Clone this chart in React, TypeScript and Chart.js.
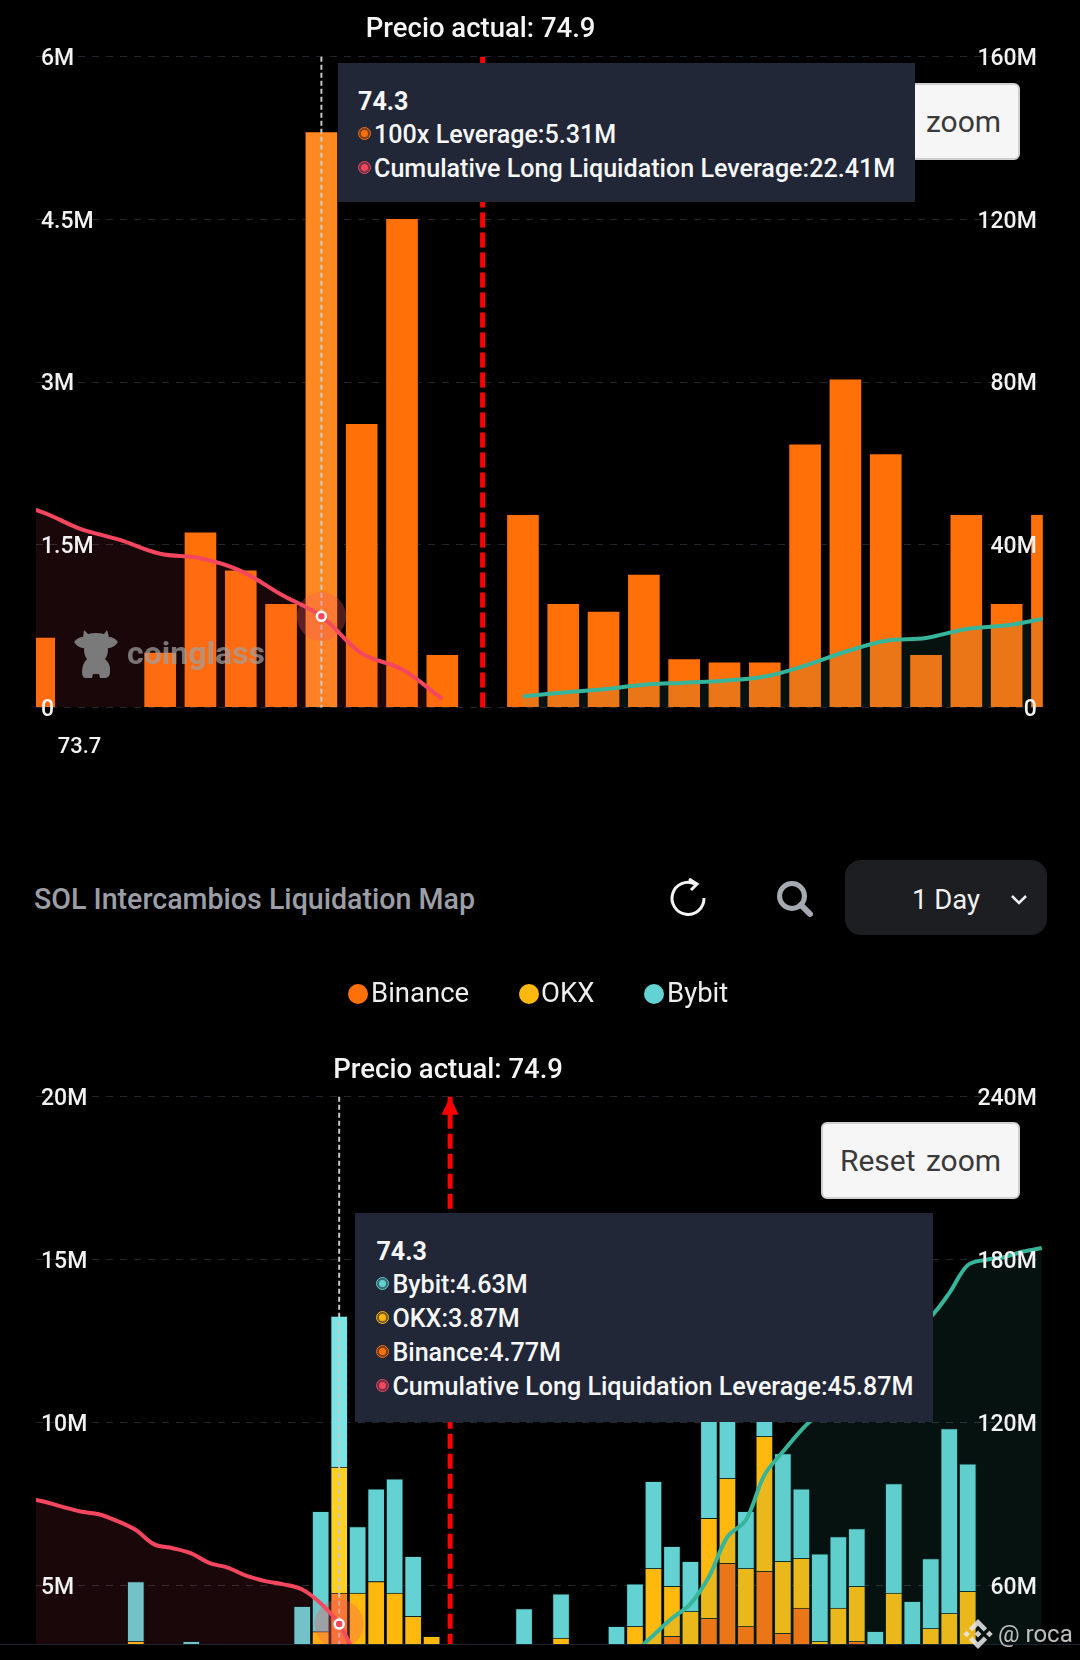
import { useEffect, useRef } from "react";
import { Chart, registerables } from "chart.js";

Chart.register(...registerables);

const FONT = "Roboto";
const BINANCE = "#ff7008";
const OKX = "#ffb90e";
const BYBIT = "#64d2d3";
const RED = "#f4475f";
const TEAL = "#36b59b";

// top chart: 100x leverage
const topPrices = [73.6, 73.9, 74.0, 74.1, 74.2, 74.3, 74.4, 74.5, 74.6, 74.8, 74.9, 75.0, 75.1, 75.2, 75.3, 75.4, 75.5, 75.6, 75.7, 75.8, 75.9, 76.0, 76.1];
const leverage100x = [0.65, 0.51, 1.62, 1.27, 0.96, 5.31, 2.62, 4.51, 0.49, 1.78, 0.96, 0.89, 1.23, 0.45, 0.42, 0.42, 2.43, 3.03, 2.34, 0.49, 1.78, 0.96, 1.78];
const topLongPrices = [73.5, 73.6, 73.7, 73.8, 73.9, 74.0, 74.1, 74.2, 74.3, 74.4, 74.5, 74.6];
const topLong = [50, 48.3, 44, 41.2, 37.8, 36.7, 33.6, 27.8, 22.41, 13.3, 9.4, 2.1];
const topShortPrices = [74.8, 74.9, 75.0, 75.1, 75.2, 75.3, 75.4, 75.5, 75.6, 75.7, 75.8, 75.9, 76.0, 76.1];
const topShort = [2.7, 3.7, 4.5, 5.6, 6.1, 6.6, 7.6, 10.3, 13.7, 16.4, 17.1, 19.3, 20.2, 22];

// bottom chart: exchanges, stacked
const exchangePrices = [73.75, 73.9, 74.2, 74.25, 74.3, 74.35, 74.4, 74.45, 74.5, 74.55, 74.8, 74.9, 75.05, 75.1, 75.15, 75.2, 75.25, 75.3, 75.35, 75.4, 75.45, 75.5, 75.55, 75.6, 75.65, 75.7, 75.75, 75.8, 75.85, 75.9, 75.95, 76.0];
const binance = [1.4, 1.5, 1.5, 2.2, 4.77, 2.0, 2.2, 2.0, 1.9, 1.7, 1.3, 1.6, 1.5, 1.6, 1.8, 3.45, 2.2, 4.0, 5.69, 3.75, 5.44, 3.54, 4.31, 2.0, 2.0, 3.29, 1.5, 2.0, 1.6, 1.9, 2.0, 2.2];
const okx = [1.89, 1.2, 1.4, 1.39, 3.87, 2.77, 2.93, 2.77, 2.16, 1.75, 1.5, 1.79, 1.4, 2.15, 3.73, 1.53, 2.01, 3.07, 2.6, 1.78, 4.14, 2.21, 1.53, 1.29, 2.31, 1.69, 1.3, 2.77, 1.4, 1.79, 2.15, 2.63];
const bybit = [1.84, 0.59, 1.47, 3.69, 4.63, 2.04, 2.84, 3.51, 1.84, 0, 1.5, 1.36, 0.85, 1.31, 2.67, 1.23, 1.54, 3.7, 2.6, 1.75, 1.2, 3.3, 2.13, 2.69, 2.2, 1.77, 0.8, 3.36, 1.52, 2.14, 5.67, 3.91];
const bottomLongPrices = [73.45, 73.5, 73.55, 73.6, 73.65, 73.7, 73.75, 73.8, 73.85, 73.9, 73.95, 74.0, 74.05, 74.1, 74.15, 74.2, 74.25, 74.3, 74.35, 74.4, 74.45, 74.5, 74.55];
const bottomLong = [92.2, 91, 89.1, 87.3, 86.3, 83.8, 80.5, 75.2, 73.8, 71.9, 68.3, 66.6, 63.6, 61.7, 60.5, 58.6, 53.5, 45.87, 33, 24, 17, 9, 3];
const bottomShortPrices = [75.1, 75.15, 75.2, 75.25, 75.3, 75.35, 75.4, 75.45, 75.5, 75.55, 75.6, 75.65, 75.7, 75.75, 75.8, 75.85, 75.9, 75.95, 76.0, 76.05, 76.1, 76.15, 76.2];
const bottomShort = [35.7, 41.8, 48, 53.3, 63.3, 78, 84.2, 100.7, 109.3, 117.3, 124, 131, 137, 143, 149, 154, 159, 167.7, 178, 180, 181, 183, 184.3];

const HOVER_PRICE = 74.3;
const CURRENT_PRICE = "74.9";

const pairs = (xs: number[], ys: number[]) => xs.map((x, i) => ({ x, y: ys[i] }));

function lineSet(label: string, xs: number[], ys: number[], color: string, fill: string) {
  return {
    type: "line" as const,
    label,
    data: pairs(xs, ys),
    yAxisID: "y1",
    borderColor: color,
    backgroundColor: fill,
    borderWidth: 4,
    pointRadius: 0,
    tension: 0.35,
    fill: "origin",
    order: 0,
  };
}

function yScales(leftMax: number, leftStep: number, rightMax: number, rightStep: number) {
  const ticks = {
    color: "#f2f2f2",
    font: { family: FONT, size: 23, weight: 500 as const },
    mirror: true,
    z: 1,
    labelOffset: 2.5,
    callback: (v: any) => (v === 0 ? "0" : `${v}M`),
  };
  const fit = (axis: any) => { axis.width = 0; };
  return {
    y: {
      min: 0, max: leftMax, stacked: true,
      afterFit: fit,
      ticks: { ...ticks, padding: 5, stepSize: leftStep },
      grid: { color: "#23262e", drawTicks: false },
      border: { display: false, dash: [7, 7] },
    },
    y1: {
      position: "right" as const,
      min: 0, max: rightMax,
      afterFit: fit,
      ticks: { ...ticks, padding: -6, stepSize: rightStep },
      grid: { display: false },
      border: { display: false },
    },
  };
}

// price line, its label, crosshair and the hovered point
function marksPlugin(priceAt: number, labelY: number, arrow: boolean, haloColor: string) {
  return {
    id: "marks",
    afterDatasetsDraw(chart: any) {
      const { ctx, chartArea, scales } = chart;
      const { top, bottom } = chartArea;
      const px = scales.x.getPixelForValue(priceAt);
      const hx = scales.x.getPixelForValue(HOVER_PRICE);

      ctx.save();
      ctx.strokeStyle = "#ff0000";
      ctx.lineWidth = 5;
      ctx.setLineDash([15, 5]);
      ctx.beginPath();
      ctx.moveTo(px, bottom);
      ctx.lineTo(px, top);
      ctx.stroke();
      if (arrow) {
        ctx.fillStyle = "#ff0000";
        ctx.beginPath();
        ctx.moveTo(px, top);
        ctx.lineTo(px - 8.5, top + 18);
        ctx.lineTo(px + 8.5, top + 18);
        ctx.closePath();
        ctx.fill();
      }

      ctx.fillStyle = "#f5f5f5";
      ctx.font = `500 27.5px ${FONT}`;
      ctx.textAlign = "center";
      ctx.textBaseline = "middle";
      ctx.fillText(`Precio actual: ${CURRENT_PRICE}`, px - 2, labelY);

      ctx.strokeStyle = "#c9c9c9";
      ctx.lineWidth = 2;
      ctx.setLineDash([5, 3]);
      ctx.beginPath();
      ctx.moveTo(hx, top);
      ctx.lineTo(hx, bottom);
      ctx.stroke();
      ctx.setLineDash([]);

      const longIndex = chart.data.datasets.findIndex((d: any) => d.label === "long");
      const meta = chart.getDatasetMeta(longIndex);
      const point = meta.data.find((p: any) => Math.abs(p.x - hx) < 1);
      if (point) {
        ctx.fillStyle = haloColor;
        ctx.beginPath();
        ctx.arc(point.x, point.y, 24.5, 0, Math.PI * 2);
        ctx.fill();
        ctx.fillStyle = RED;
        ctx.strokeStyle = "#ffffff";
        ctx.lineWidth = 2.5;
        ctx.beginPath();
        ctx.arc(point.x, point.y, 4.5, 0, Math.PI * 2);
        ctx.fill();
        ctx.stroke();
      }
      ctx.restore();
    },
  };
}

const hoverColor = (base: string, light: string, xs: number[]) => (c: any) =>
  xs[c.dataIndex] === HOVER_PRICE ? light : base;

function TopChart() {
  const canvasRef = useRef<HTMLCanvasElement>(null);

  useEffect(() => {
    if (!canvasRef.current) return;
    const chart = new Chart(canvasRef.current, {
      type: "bar",
      data: {
        datasets: [
          lineSet("long", topLongPrices, topLong, RED, "rgba(244,71,95,0.1)"),
          lineSet("short", topShortPrices, topShort, TEAL, "rgba(54,181,155,0.1)"),
          {
            label: "100x Leverage",
            data: pairs(topPrices, leverage100x),
            backgroundColor: hoverColor(BINANCE, "#ff8820", topPrices),
            borderColor: "rgba(0,0,0,0.3)",
            borderWidth: 1,
            barThickness: 33,
            order: 1,
          },
        ] as any,
      },
      options: {
        responsive: false,
        animation: false,
        events: [],
        layout: { padding: { left: 36, right: 37.2, top: 56.7, bottom: 22.5 } },
        plugins: { legend: { display: false }, tooltip: { enabled: false } },
        scales: {
          x: {
            type: "linear",
            offset: false,
            min: 73.592,
            max: 76.0897,
            afterBuildTicks: (axis: any) => { axis.ticks = [{ value: 73.7 }]; },
            afterFit: (axis: any) => { axis.height = 60; },
            ticks: {
              color: "#f2f2f2",
              font: { family: FONT, size: 22, weight: 500 },
              padding: 19,
              maxRotation: 0,
              callback: (v: any) => Number(v).toFixed(1),
            },
            grid: { display: false },
            border: { display: false },
          },
          ...yScales(6, 1.5, 160, 40),
        },
      } as any,
      plugins: [marksPlugin(74.7, 30, false, "rgba(244,90,90,0.32)")],
    });
    return () => { chart.destroy(); };
  }, []);

  return <canvas ref={canvasRef} width={1080} height={790} style={{ position: "absolute", left: 0, top: 0 }} />;
}

function BottomChart() {
  const canvasRef = useRef<HTMLCanvasElement>(null);

  useEffect(() => {
    if (!canvasRef.current) return;
    const bar = (label: string, values: number[], color: string, light: string) => ({
      label,
      data: pairs(exchangePrices, values),
      backgroundColor: hoverColor(color, light, exchangePrices),
      borderColor: "rgba(0,40,40,0.55)",
      borderWidth: 1,
      barThickness: 17,
      order: 1,
    });
    const chart = new Chart(canvasRef.current, {
      type: "bar",
      data: {
        datasets: [
          lineSet("long", bottomLongPrices, bottomLong, RED, "rgba(244,71,95,0.1)"),
          lineSet("short", bottomShortPrices, bottomShort, TEAL, "rgba(54,181,155,0.1)"),
          bar("Binance", binance, BINANCE, "#ff8224"),
          bar("OKX", okx, OKX, "#ffd024"),
          bar("Bybit", bybit, BYBIT, "#7ae4e6"),
        ] as any,
      },
      options: {
        responsive: false,
        animation: false,
        events: [],
        layout: { padding: { left: 36, right: 37.2, top: 66.7, bottom: 31.3 } },
        plugins: { legend: { display: false }, tooltip: { enabled: false } },
        scales: {
          x: { type: "linear", offset: false, stacked: true, min: 73.48, max: 76.203, display: false },
          ...yScales(20, 5, 240, 60),
        },
      } as any,
      plugins: [marksPlugin(74.6, 41, true, "rgba(244,90,90,0.32)")],
    });
    return () => { chart.destroy(); };
  }, []);

  return <canvas ref={canvasRef} width={1080} height={750} style={{ position: "absolute", left: 0, top: 1030 }} />;
}

function TooltipBox({ box, titleLeft, rows }: { box: number[]; titleLeft: number; rows: { color: string; text: string }[] }) {
  const [left, top, right, bottom] = box;
  const text = { position: "absolute" as const, whiteSpace: "nowrap" as const, lineHeight: "34px", color: "#f7f7f7", fontSize: 25.1, fontWeight: 500 };
  return (
    <div style={{ position: "absolute", left, top, width: right - left, height: bottom - top, background: "#212737", fontFamily: FONT, zIndex: 5 }}>
      <div style={{ ...text, left: titleLeft, top: 22, fontWeight: 700 }}>{HOVER_PRICE}</div>
      {rows.map((row, i) => (
        <div key={row.text}>
          <span style={{ position: "absolute", left: titleLeft + 1, top: 65 + i * 34, width: 11, height: 11, borderRadius: "50%", boxSizing: "border-box", background: row.color, border: "2px solid rgba(33,39,55,0.6)", outline: `1px solid ${row.color}` }} />
          <div style={{ ...text, left: titleLeft + 16, top: 55 + i * 34 }}>{row.text}</div>
        </div>
      ))}
    </div>
  );
}

function ResetButton({ top }: { top: number }) {
  return (
    <div style={{ position: "absolute", left: 821, top, width: 199, height: 77, boxSizing: "border-box", background: "#f6f6f6", border: "2px solid #cfcfcf", borderRadius: 6, color: "#3a3a3a", fontFamily: FONT, fontSize: 30, lineHeight: "73px", wordSpacing: 3, textAlign: "center", zIndex: 3 }}>
      Reset zoom
    </div>
  );
}

function Coinglass() {
  return (
    <div style={{ position: "absolute", left: 72, top: 626, width: 200, height: 60, zIndex: 2 }}>
      <svg width="46" height="54" viewBox="0 0 46 54" style={{ position: "absolute", left: 2, top: 2 }}>
        <path d="M10 2 L14 6 Q22 4 30 6 L33 2 L35 9 Q40 9 44 14 Q40 20 34 20 Q34 28 31 31 Q37 36 36 44 Q36 50 30 50 L26 50 L25 46 L19 46 L18 50 L12 50 Q8 50 8 44 Q8 36 13 31 Q10 28 10 20 Q4 20 0 14 Q4 9 9 9 Z" fill="#7b7a7a" />
      </svg>
      <div style={{ position: "absolute", left: 55, top: 8, fontFamily: FONT, fontWeight: 700, fontSize: 32, color: "rgba(160,160,160,0.72)" }}>coinglass</div>
    </div>
  );
}

function Header() {
  const legend = [
    { name: "Binance", color: BINANCE, dot: 348, text: 371 },
    { name: "OKX", color: OKX, dot: 519, text: 541 },
    { name: "Bybit", color: BYBIT, dot: 644, text: 667 },
  ];
  return (
    <div style={{ fontFamily: FONT }}>
      <div style={{ position: "absolute", left: 34, top: 880, fontSize: 28.6, lineHeight: "38px", color: "#9c9ea5", fontWeight: 500, whiteSpace: "nowrap" }}>
        SOL Intercambios Liquidation Map
      </div>
      <svg width="40" height="40" viewBox="0 0 40 40" style={{ position: "absolute", left: 668, top: 878 }}>
        <path d="M27 6 A16 16 0 1 0 36 20" fill="none" stroke="#f4f4f4" strokeWidth="3" />
        <path d="M21 1 L29 6 L23 12" fill="none" stroke="#f4f4f4" strokeWidth="3" />
      </svg>
      <svg width="40" height="40" viewBox="0 0 40 40" style={{ position: "absolute", left: 775, top: 879 }}>
        <circle cx="17" cy="17" r="12.5" fill="none" stroke="#a6a9b0" strokeWidth="5" />
        <path d="M26 26 L35 35" stroke="#a6a9b0" strokeWidth="6" strokeLinecap="round" />
      </svg>
      <div style={{ position: "absolute", left: 845, top: 860, width: 202, height: 75, borderRadius: 16, background: "#1c1e22" }} />
      <div style={{ position: "absolute", left: 912, top: 881, fontSize: 27.5, lineHeight: "38px", color: "#f0f0f0" }}>1 Day</div>
      <svg width="18" height="12" viewBox="0 0 18 12" style={{ position: "absolute", left: 1010, top: 894 }}>
        <path d="M2 2 L9 9 L16 2" fill="none" stroke="#f0f0f0" strokeWidth="2.5" />
      </svg>
      {legend.map((item) => (
        <div key={item.name}>
          <span style={{ position: "absolute", left: item.dot, top: 984, width: 20, height: 20, borderRadius: "50%", background: item.color }} />
          <div style={{ position: "absolute", left: item.text, top: 974, fontSize: 27.5, lineHeight: "38px", color: "#eeeeee" }}>{item.name}</div>
        </div>
      ))}
    </div>
  );
}

export default function App() {
  const hover = exchangePrices.indexOf(HOVER_PRICE);
  const topHover = topPrices.indexOf(HOVER_PRICE);
  const longTop = topLong[topLongPrices.indexOf(HOVER_PRICE)];
  const longBottom = bottomLong[bottomLongPrices.indexOf(HOVER_PRICE)];
  const label = "Cumulative Long Liquidation Leverage";

  return (
    <div style={{ position: "absolute", left: 0, top: 0, width: 1080, height: 1660, overflow: "hidden", background: "#000" }}>
      <TopChart />
      <Coinglass />
      <ResetButton top={83} />
      <TooltipBox
        box={[338, 62.7, 915.3, 202]}
        titleLeft={20}
        rows={[
          { color: BINANCE, text: `100x Leverage:${leverage100x[topHover].toFixed(2)}M` },
          { color: RED, text: `${label}:${longTop.toFixed(2)}M` },
        ]}
      />
      <Header />
      <div style={{ position: "absolute", left: 0, top: 0, width: 1080, height: 1644, overflow: "hidden" }}>
        <BottomChart />
      </div>
      <div style={{ position: "absolute", left: 0, top: 1644, width: 1080, height: 16, background: "#000", borderTop: "1px solid #1c222c" }} />
      <ResetButton top={1122} />
      <TooltipBox
        box={[355.4, 1212.7, 933, 1422.3]}
        titleLeft={21}
        rows={[
          { color: BYBIT, text: `Bybit:${bybit[hover].toFixed(2)}M` },
          { color: OKX, text: `OKX:${okx[hover].toFixed(2)}M` },
          { color: BINANCE, text: `Binance:${binance[hover].toFixed(2)}M` },
          { color: RED, text: `${label}:${longBottom.toFixed(2)}M` },
        ]}
      />
      <svg width="30" height="30" viewBox="-3 -3 134 134" style={{ position: "absolute", left: 963, top: 1619, zIndex: 6 }}>
        <path fill="#e6e6e6" opacity="0.88" d="M38.171 53.203l25.82-25.82 25.833 25.833 15.02-15.02L63.991-2.655 23.151 38.183l15.02 15.02zM-1.841 63.99l15.02-15.02 15.02 15.02-15.02 15.02zm40.012 10.788l25.82 25.82 25.833-25.833 15.03 15.01v.009L63.991 130.637 23.15 89.798l-.021-.022 15.042-14.997zM99.864 64.01l15.02-15.02 15.02 15.02-15.02 15.02zM79.222 63.983h.008L63.991 48.744 52.731 60.004l-1.294 1.294-2.667 2.667-.022.021.022.023 15.221 15.221 15.239-15.239.008-.009-.014-.007z" />
      </svg>
      <div style={{ position: "absolute", left: 998, top: 1617, fontFamily: FONT, fontSize: 24, lineHeight: "34px", color: "rgba(235,235,235,0.8)", whiteSpace: "nowrap", zIndex: 6 }}>
        @ roca
      </div>
    </div>
  );
}
